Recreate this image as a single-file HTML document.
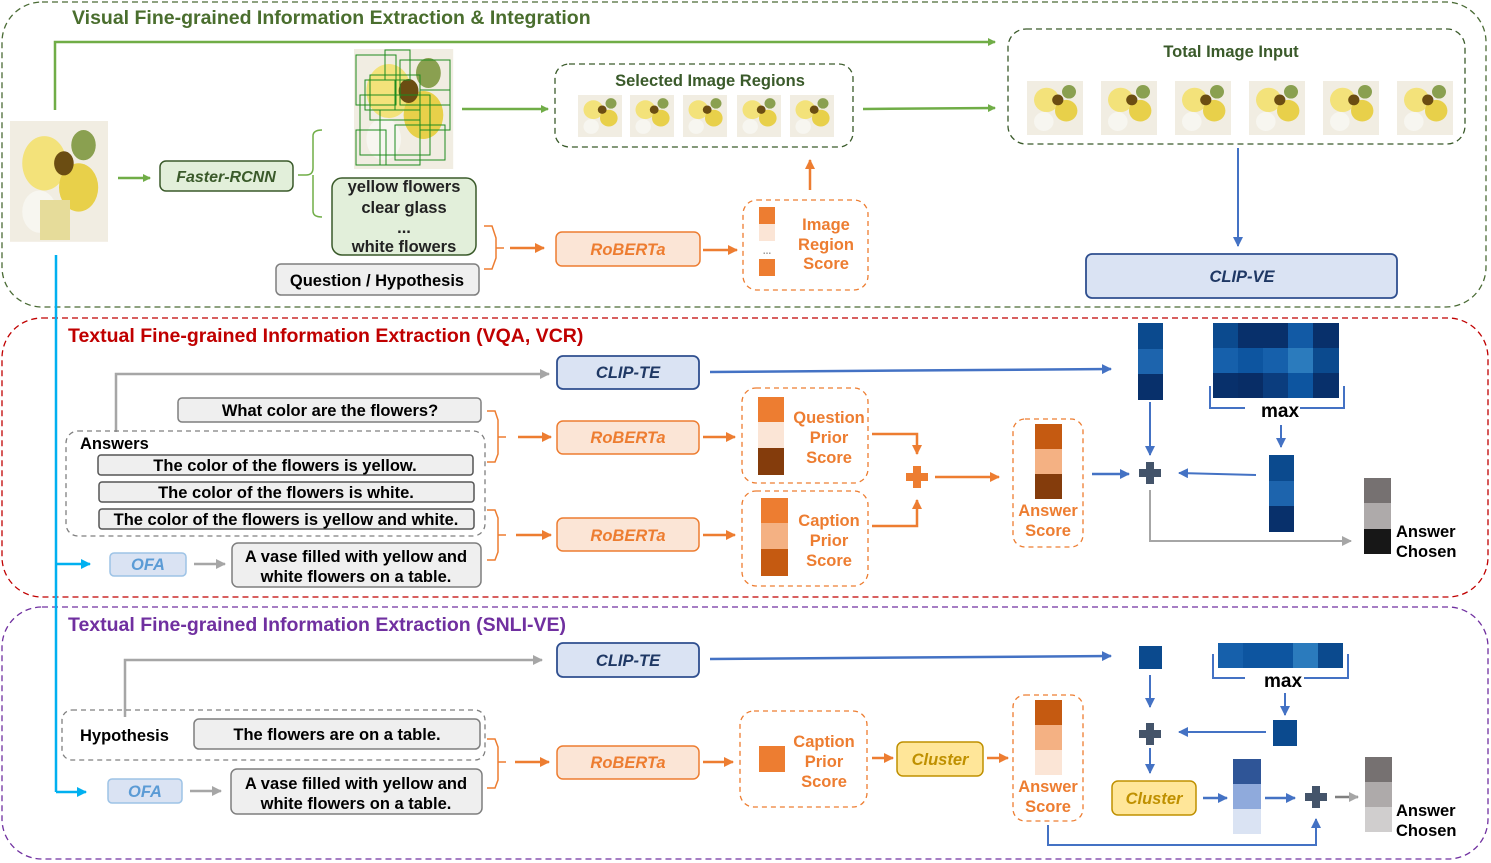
<!DOCTYPE html>
<html><head><meta charset="utf-8"><style>
html,body{margin:0;padding:0;background:#fff}
svg{display:block}
text{font-family:"Liberation Sans",Arial,sans-serif;font-weight:bold}
.it{font-style:italic}
</style></head><body>
<svg width="1491" height="863" viewBox="0 0 1491 863" xmlns="http://www.w3.org/2000/svg">
<defs>
<marker id="ag" markerWidth="8" markerHeight="8" refX="7" refY="4" orient="auto" markerUnits="userSpaceOnUse"><path d="M0,0 L8,4 L0,8 Z" fill="#70ad47"/></marker>
<marker id="ao" markerWidth="10" markerHeight="10" refX="9" refY="5" orient="auto" markerUnits="userSpaceOnUse"><path d="M0,0 L10,5 L0,10 Z" fill="#ed7d31"/></marker>
<marker id="ab" markerWidth="10" markerHeight="10" refX="9" refY="5" orient="auto" markerUnits="userSpaceOnUse"><path d="M0,0 L10,5 L0,10 Z" fill="#4472c4"/></marker>
<marker id="ay" markerWidth="10" markerHeight="10" refX="9" refY="5" orient="auto" markerUnits="userSpaceOnUse"><path d="M0,0 L10,5 L0,10 Z" fill="#a6a6a6"/></marker>
<marker id="ac" markerWidth="10" markerHeight="10" refX="9" refY="5" orient="auto" markerUnits="userSpaceOnUse"><path d="M0,0 L10,5 L0,10 Z" fill="#00b0f0"/></marker>
<g id="photo">
<rect width="40" height="40" fill="#f1ede2"/>
<circle cx="14" cy="14" r="9" fill="#f3e27a"/><circle cx="28" cy="22" r="8" fill="#e8d04a"/>
<circle cx="12" cy="30" r="7" fill="#f7f6f0"/><circle cx="22" cy="14" r="4" fill="#6b4d12"/>
<circle cx="30" cy="8" r="5" fill="#8aa050"/>
</g>
</defs>

<!-- Panels -->
<rect x="2" y="2" width="1484" height="305" rx="40" fill="none" stroke="#4a6b35" stroke-width="1.3" stroke-dasharray="6,4"/>
<text x="72" y="24" font-size="19.5" fill="#4a6e2e">Visual Fine-grained Information Extraction &amp; Integration</text>
<rect x="2" y="318" width="1486" height="279" rx="40" fill="none" stroke="#c00000" stroke-width="1.3" stroke-dasharray="6,4"/>
<text x="68" y="342" font-size="19.5" fill="#c00000">Textual Fine-grained Information Extraction (VQA, VCR)</text>
<rect x="2" y="607" width="1486" height="252" rx="40" fill="none" stroke="#7030a0" stroke-width="1.3" stroke-dasharray="6,4"/>
<text x="68" y="631" font-size="19.5" fill="#7030a0">Textual Fine-grained Information Extraction (SNLI-VE)</text>

<!-- TOP -->
<polyline points="55,110 55,42 995,42" fill="none" stroke="#70ad47" stroke-width="2.5" marker-end="url(#ag)"/>
<g transform="translate(10,121) scale(2.45,3.02)"><use href="#photo"/></g>
<rect x="40" y="200" width="30" height="40" fill="#e6dc9a"/>
<line x1="118" y1="178" x2="150" y2="178" stroke="#70ad47" stroke-width="2.5" marker-end="url(#ag)"/>
<rect x="160" y="161" width="133" height="30" rx="6" fill="#e2efda" stroke="#3a5a2a" stroke-width="1.5"/>
<text x="226" y="182" font-size="16" fill="#3a5a2a" text-anchor="middle" class="it">Faster-RCNN</text>
<path d="M298,175 L306,175 M306,175 Q313,175 313,168 L313,136 Q313,130 322,130 M313,175 L313,211 Q313,217 322,217" fill="none" stroke="#70ad47" stroke-width="1.5"/>
<g transform="translate(354,49) scale(2.48,3)"><use href="#photo"/></g>
<g fill="none" stroke="#1e8c1e" stroke-width="1">
<rect x="356" y="55" width="40" height="50"/><rect x="370" y="75" width="50" height="45"/><rect x="360" y="95" width="70" height="60"/><rect x="400" y="60" width="50" height="45"/><rect x="380" y="110" width="40" height="55"/><rect x="356" y="130" width="30" height="35"/><rect x="420" y="90" width="30" height="40"/><rect x="385" y="50" width="25" height="30"/><rect x="365" y="80" width="30" height="30"/><rect x="395" y="125" width="50" height="35"/>
</g>
<line x1="462" y1="109" x2="548" y2="109" stroke="#70ad47" stroke-width="2.5" marker-end="url(#ag)"/>
<rect x="555" y="64" width="298" height="83" rx="14" fill="none" stroke="#3a5a2a" stroke-width="1.3" stroke-dasharray="6,4"/>
<text x="710" y="86" font-size="16.5" fill="#3a5a2a" text-anchor="middle">Selected Image Regions</text>
<g transform="translate(578,95) scale(1.1,1.05)"><use href="#photo"/></g>
<g transform="translate(630,95) scale(1.1,1.05)"><use href="#photo"/></g>
<g transform="translate(683,95) scale(1.1,1.05)"><use href="#photo"/></g>
<g transform="translate(737,95) scale(1.1,1.05)"><use href="#photo"/></g>
<g transform="translate(790,95) scale(1.1,1.05)"><use href="#photo"/></g>
<line x1="863" y1="109" x2="995" y2="108" stroke="#70ad47" stroke-width="2.5" marker-end="url(#ag)"/>
<rect x="1008" y="29" width="457" height="115" rx="18" fill="none" stroke="#3a5a2a" stroke-width="1.3" stroke-dasharray="6,4"/>
<text x="1231" y="57" font-size="16.5" fill="#3a5a2a" text-anchor="middle">Total Image Input</text>
<g transform="translate(1027,81) scale(1.4,1.35)"><use href="#photo"/></g>
<g transform="translate(1101,81) scale(1.4,1.35)"><use href="#photo"/></g>
<g transform="translate(1175,81) scale(1.4,1.35)"><use href="#photo"/></g>
<g transform="translate(1249,81) scale(1.4,1.35)"><use href="#photo"/></g>
<g transform="translate(1323,81) scale(1.4,1.35)"><use href="#photo"/></g>
<g transform="translate(1397,81) scale(1.4,1.35)"><use href="#photo"/></g>
<line x1="1238" y1="148" x2="1238" y2="246" stroke="#4472c4" stroke-width="2" marker-end="url(#ab)"/>
<rect x="1086" y="254" width="311" height="44" rx="6" fill="#dae3f3" stroke="#2f4f8f" stroke-width="1.8"/>
<text x="1242" y="282" font-size="16.5" fill="#1f3864" text-anchor="middle" class="it">CLIP-VE</text>

<rect x="332" y="178" width="144" height="77" rx="10" fill="#e2efda" stroke="#3a5a2a" stroke-width="1.5"/>
<g font-size="16.5" fill="#222" text-anchor="middle"><text x="404" y="192">yellow flowers</text><text x="404" y="213">clear glass</text><text x="404" y="233">...</text><text x="404" y="252">white flowers</text></g>
<rect x="276" y="264" width="203" height="31" rx="5" fill="#efefef" stroke="#7f7f7f" stroke-width="1.5"/>
<text x="377" y="286" font-size="16.5" fill="#000" text-anchor="middle">Question / Hypothesis</text>
<path d="M484,226 L492,226 L496,238 L496,248 M496,248 L496,258 L492,269 L484,269 M496,248 L504,248" fill="none" stroke="#ed7d31" stroke-width="1.5"/>
<line x1="510" y1="248" x2="544" y2="248" stroke="#ed7d31" stroke-width="2.5" marker-end="url(#ao)"/>
<rect x="556" y="232" width="144" height="34" rx="6" fill="#fbe5d6" stroke="#ed7d31" stroke-width="1.5"/>
<text x="628" y="255" font-size="16.5" fill="#ed7d31" text-anchor="middle" class="it">RoBERTa</text>
<line x1="703" y1="250" x2="737" y2="250" stroke="#ed7d31" stroke-width="2.5" marker-end="url(#ao)"/>
<rect x="743" y="200" width="125" height="90" rx="14" fill="none" stroke="#ed7d31" stroke-width="1.3" stroke-dasharray="5,4"/>
<rect x="759" y="207" width="16" height="17" fill="#ed7d31"/><rect x="759" y="224" width="16" height="17" fill="#fbe5d6"/>
<text x="767" y="254" font-size="10" fill="#999" text-anchor="middle">...</text>
<rect x="759" y="259" width="16" height="17" fill="#ed7d31"/>
<g font-size="16.5" fill="#ed7d31" text-anchor="middle"><text x="826" y="230">Image</text><text x="826" y="250">Region</text><text x="826" y="269">Score</text></g>
<line x1="810" y1="190" x2="810" y2="160" stroke="#ed7d31" stroke-width="2.5" marker-end="url(#ao)"/>

<!-- cyan line -->
<line x1="56" y1="255" x2="56" y2="792" stroke="#00b0f0" stroke-width="2.5"/>
<line x1="56" y1="564" x2="90" y2="564" stroke="#00b0f0" stroke-width="2.5" marker-end="url(#ac)"/>
<line x1="56" y1="792" x2="86" y2="792" stroke="#00b0f0" stroke-width="2.5" marker-end="url(#ac)"/>

<!-- MIDDLE -->
<rect x="557" y="356" width="142" height="33" rx="6" fill="#dae3f3" stroke="#2f4f8f" stroke-width="1.8"/>
<text x="628" y="378" font-size="16.5" fill="#1f3864" text-anchor="middle" class="it">CLIP-TE</text>
<polyline points="116,432 116,374 549,374" fill="none" stroke="#a6a6a6" stroke-width="2.5" marker-end="url(#ay)"/>
<line x1="710" y1="372" x2="1111" y2="369" stroke="#4472c4" stroke-width="2.5" marker-end="url(#ab)"/>
<rect x="178" y="398" width="303" height="24" rx="4" fill="#efefef" stroke="#7f7f7f" stroke-width="1.5"/>
<text x="330" y="416" font-size="16.5" fill="#000" text-anchor="middle">What color are the flowers?</text>
<rect x="66" y="431" width="419" height="105" rx="12" fill="none" stroke="#7f7f7f" stroke-width="1.3" stroke-dasharray="5,4"/>
<text x="80" y="449" font-size="16.5" fill="#000">Answers</text>
<rect x="98" y="455" width="375" height="20" rx="3" fill="#efefef" stroke="#555" stroke-width="1.5"/>
<text x="285" y="471" font-size="16.5" fill="#000" text-anchor="middle">The color of the flowers is yellow.</text>
<rect x="99" y="482" width="375" height="20" rx="3" fill="#efefef" stroke="#555" stroke-width="1.5"/>
<text x="286" y="498" font-size="16.5" fill="#000" text-anchor="middle">The color of the flowers is white.</text>
<rect x="99" y="509" width="375" height="20" rx="3" fill="#efefef" stroke="#555" stroke-width="1.5"/>
<text x="286" y="525" font-size="16.5" fill="#000" text-anchor="middle">The color of the flowers is yellow and white.</text>
<path d="M487,411 L495,411 L498,420 L498,437 L498,454 L495,462 L487,462 M498,437 L506,437" fill="none" stroke="#ed7d31" stroke-width="1.5"/>
<line x1="518" y1="437" x2="551" y2="437" stroke="#ed7d31" stroke-width="2.5" marker-end="url(#ao)"/>
<path d="M487,510 L495,510 L498,518 L498,535 L498,552 L495,560 L487,560 M498,535 L506,535" fill="none" stroke="#ed7d31" stroke-width="1.5"/>
<line x1="516" y1="535" x2="551" y2="535" stroke="#ed7d31" stroke-width="2.5" marker-end="url(#ao)"/>
<rect x="557" y="421" width="142" height="33" rx="6" fill="#fbe5d6" stroke="#ed7d31" stroke-width="1.5"/>
<text x="628" y="443" font-size="16.5" fill="#ed7d31" text-anchor="middle" class="it">RoBERTa</text>
<rect x="557" y="518" width="142" height="33" rx="6" fill="#fbe5d6" stroke="#ed7d31" stroke-width="1.5"/>
<text x="628" y="541" font-size="16.5" fill="#ed7d31" text-anchor="middle" class="it">RoBERTa</text>
<rect x="110" y="553" width="76" height="23" rx="4" fill="#dae3f3" stroke="#9dc3e6" stroke-width="1.5"/>
<text x="148" y="570" font-size="16.5" fill="#5b9bd5" text-anchor="middle" class="it" font-weight="normal">OFA</text>
<line x1="194" y1="564" x2="225" y2="564" stroke="#a6a6a6" stroke-width="2.5" marker-end="url(#ay)"/>
<rect x="232" y="543" width="249" height="44" rx="6" fill="#efefef" stroke="#7f7f7f" stroke-width="1.5"/>
<text x="356" y="562" font-size="16.5" fill="#000" text-anchor="middle">A vase filled with yellow and</text>
<text x="356" y="582" font-size="16.5" fill="#000" text-anchor="middle">white flowers on a table.</text>
<line x1="703" y1="437" x2="735" y2="437" stroke="#ed7d31" stroke-width="2.5" marker-end="url(#ao)"/>
<line x1="703" y1="535" x2="735" y2="535" stroke="#ed7d31" stroke-width="2.5" marker-end="url(#ao)"/>
<rect x="742" y="388" width="126" height="95" rx="14" fill="none" stroke="#ed7d31" stroke-width="1.3" stroke-dasharray="5,4"/>
<rect x="758" y="397" width="26" height="25" fill="#ed7d31"/><rect x="758" y="422" width="26" height="26" fill="#fbe5d6"/><rect x="758" y="448" width="26" height="27" fill="#843c0c"/>
<g font-size="16.5" fill="#ed7d31" text-anchor="middle"><text x="829" y="423">Question</text><text x="829" y="443">Prior</text><text x="829" y="463">Score</text></g>
<rect x="742" y="491" width="126" height="95" rx="14" fill="none" stroke="#ed7d31" stroke-width="1.3" stroke-dasharray="5,4"/>
<rect x="761" y="498" width="27" height="25" fill="#ed7d31"/><rect x="761" y="523" width="27" height="26" fill="#f4b183"/><rect x="761" y="549" width="27" height="27" fill="#c55a11"/>
<g font-size="16.5" fill="#ed7d31" text-anchor="middle"><text x="829" y="526">Caption</text><text x="829" y="546">Prior</text><text x="829" y="566">Score</text></g>
<polyline points="872,434 917,434 917,454" fill="none" stroke="#ed7d31" stroke-width="2.5" marker-end="url(#ao)"/>
<polyline points="872,526 917,526 917,500" fill="none" stroke="#ed7d31" stroke-width="2.5" marker-end="url(#ao)"/>
<path d="M913,466 h8 v7 h7 v8 h-7 v7 h-8 v-7 h-7 v-8 h7 z" fill="#ed7d31"/>
<line x1="935" y1="477" x2="999" y2="477" stroke="#ed7d31" stroke-width="2.5" marker-end="url(#ao)"/>
<rect x="1013" y="419" width="70" height="128" rx="12" fill="none" stroke="#ed7d31" stroke-width="1.3" stroke-dasharray="5,4"/>
<rect x="1035" y="424" width="27" height="25" fill="#c55a11"/><rect x="1035" y="449" width="27" height="25" fill="#f4b183"/><rect x="1035" y="474" width="27" height="25" fill="#843c0c"/>
<g font-size="16.5" fill="#ed7d31" text-anchor="middle"><text x="1048" y="516">Answer</text><text x="1048" y="536">Score</text></g>
<line x1="1092" y1="474" x2="1129" y2="474" stroke="#4472c4" stroke-width="2.5" marker-end="url(#ab)"/>
<path d="M1146,462 h8 v7 h7 v8 h-7 v7 h-8 v-7 h-7 v-8 h7 z" fill="#44546a"/>
<line x1="1150" y1="402" x2="1150" y2="455" stroke="#4472c4" stroke-width="2" marker-end="url(#ab)"/>
<rect x="1138" y="323" width="25" height="26" fill="#0b4a8e"/><rect x="1138" y="349" width="25" height="25" fill="#1d64ad"/><rect x="1138" y="374" width="25" height="26" fill="#08306b"/>
<g>
<rect x="1213" y="323" width="126" height="75" fill="#0b3d7e"/>
<rect x="1213" y="323" width="25" height="25" fill="#0b4a8e"/><rect x="1238" y="323" width="25" height="25" fill="#08306b"/><rect x="1263" y="323" width="25" height="25" fill="#08306b"/><rect x="1288" y="323" width="25" height="25" fill="#125aa5"/><rect x="1313" y="323" width="26" height="25" fill="#08306b"/>
<rect x="1213" y="348" width="25" height="25" fill="#1660ab"/><rect x="1238" y="348" width="25" height="25" fill="#0d55a0"/><rect x="1263" y="348" width="25" height="25" fill="#1660ab"/><rect x="1288" y="348" width="25" height="25" fill="#2b7bbd"/><rect x="1313" y="348" width="26" height="25" fill="#0b4a8e"/>
<rect x="1213" y="373" width="25" height="25" fill="#08306b"/><rect x="1238" y="373" width="25" height="25" fill="#082d66"/><rect x="1263" y="373" width="25" height="25" fill="#0b3d7e"/><rect x="1288" y="373" width="25" height="25" fill="#0d55a0"/><rect x="1313" y="373" width="26" height="25" fill="#08306b"/>
</g>
<polyline points="1210,386 1210,408 1245,408" fill="none" stroke="#4472c4" stroke-width="2"/>
<polyline points="1300,408 1344,408 1344,386" fill="none" stroke="#4472c4" stroke-width="2"/>
<text x="1280" y="417" font-size="19" fill="#000" text-anchor="middle">max</text>
<line x1="1281" y1="425" x2="1281" y2="447" stroke="#4472c4" stroke-width="2" marker-end="url(#ab)"/>
<rect x="1269" y="455" width="25" height="26" fill="#0b4a8e"/><rect x="1269" y="481" width="25" height="25" fill="#1d64ad"/><rect x="1269" y="506" width="25" height="26" fill="#08306b"/>
<line x1="1256" y1="475" x2="1179" y2="473" stroke="#4472c4" stroke-width="2" marker-end="url(#ab)"/>
<polyline points="1150,490 1150,541 1351,541" fill="none" stroke="#a6a6a6" stroke-width="2" marker-end="url(#ay)"/>
<rect x="1364" y="478" width="27" height="25" fill="#767171"/><rect x="1364" y="503" width="27" height="26" fill="#aeaaaa"/><rect x="1364" y="529" width="27" height="25" fill="#171717"/>
<text x="1396" y="537" font-size="16.5" fill="#000">Answer</text><text x="1396" y="557" font-size="16.5" fill="#000">Chosen</text>

<!-- BOTTOM -->
<rect x="557" y="643" width="142" height="34" rx="6" fill="#dae3f3" stroke="#2f4f8f" stroke-width="1.8"/>
<text x="628" y="666" font-size="16.5" fill="#1f3864" text-anchor="middle" class="it">CLIP-TE</text>
<polyline points="125,717 125,660 542,660" fill="none" stroke="#a6a6a6" stroke-width="2.5" marker-end="url(#ay)"/>
<line x1="710" y1="659" x2="1111" y2="656" stroke="#4472c4" stroke-width="2.5" marker-end="url(#ab)"/>
<rect x="62" y="710" width="423" height="50" rx="10" fill="none" stroke="#7f7f7f" stroke-width="1.3" stroke-dasharray="5,4"/>
<text x="80" y="741" font-size="16.5" fill="#000">Hypothesis</text>
<rect x="194" y="719" width="286" height="30" rx="5" fill="#efefef" stroke="#7f7f7f" stroke-width="1.5"/>
<text x="337" y="740" font-size="16.5" fill="#000" text-anchor="middle">The flowers are on a table.</text>
<rect x="108" y="779" width="74" height="24" rx="4" fill="#dae3f3" stroke="#9dc3e6" stroke-width="1.5"/>
<text x="145" y="797" font-size="16.5" fill="#5b9bd5" text-anchor="middle" class="it" font-weight="normal">OFA</text>
<line x1="190" y1="791" x2="221" y2="791" stroke="#a6a6a6" stroke-width="2.5" marker-end="url(#ay)"/>
<rect x="231" y="769" width="251" height="45" rx="6" fill="#efefef" stroke="#7f7f7f" stroke-width="1.5"/>
<text x="356" y="789" font-size="16.5" fill="#000" text-anchor="middle">A vase filled with yellow and</text>
<text x="356" y="809" font-size="16.5" fill="#000" text-anchor="middle">white flowers on a table.</text>
<path d="M487,739 L495,739 L498,747 L498,762 L498,780 L495,788 L487,788 M498,762 L506,762" fill="none" stroke="#ed7d31" stroke-width="1.5"/>
<line x1="515" y1="762" x2="549" y2="762" stroke="#ed7d31" stroke-width="2.5" marker-end="url(#ao)"/>
<rect x="557" y="746" width="142" height="33" rx="6" fill="#fbe5d6" stroke="#ed7d31" stroke-width="1.5"/>
<text x="628" y="768" font-size="16.5" fill="#ed7d31" text-anchor="middle" class="it">RoBERTa</text>
<line x1="703" y1="762" x2="733" y2="762" stroke="#ed7d31" stroke-width="2.5" marker-end="url(#ao)"/>
<rect x="740" y="711" width="127" height="96" rx="14" fill="none" stroke="#ed7d31" stroke-width="1.3" stroke-dasharray="5,4"/>
<rect x="759" y="746" width="26" height="26" fill="#ed7d31"/>
<g font-size="16.5" fill="#ed7d31" text-anchor="middle"><text x="824" y="747">Caption</text><text x="824" y="767">Prior</text><text x="824" y="787">Score</text></g>
<line x1="872" y1="758" x2="893" y2="758" stroke="#ed7d31" stroke-width="2.5" marker-end="url(#ao)"/>
<rect x="897" y="742" width="86" height="34" rx="6" fill="#ffe699" stroke="#bf9000" stroke-width="1.5"/>
<text x="940" y="765" font-size="16.5" fill="#bf9000" text-anchor="middle" class="it">Cluster</text>
<line x1="987" y1="758" x2="1008" y2="758" stroke="#ed7d31" stroke-width="2.5" marker-end="url(#ao)"/>
<rect x="1013" y="695" width="70" height="126" rx="12" fill="none" stroke="#ed7d31" stroke-width="1.3" stroke-dasharray="5,4"/>
<rect x="1035" y="700" width="27" height="25" fill="#c55a11"/><rect x="1035" y="725" width="27" height="25" fill="#f4b183"/><rect x="1035" y="750" width="27" height="25" fill="#fbe5d6"/>
<g font-size="16.5" fill="#ed7d31" text-anchor="middle"><text x="1048" y="792">Answer</text><text x="1048" y="812">Score</text></g>
<polyline points="1048,825 1048,845 1316,845 1316,819" fill="none" stroke="#4472c4" stroke-width="2" marker-end="url(#ab)"/>
<rect x="1139" y="646" width="23" height="23" fill="#0b4a8e"/>
<line x1="1150" y1="675" x2="1150" y2="707" stroke="#4472c4" stroke-width="2" marker-end="url(#ab)"/>
<path d="M1146,723 h8 v7 h7 v8 h-7 v7 h-8 v-7 h-7 v-8 h7 z" fill="#44546a"/>
<line x1="1150" y1="748" x2="1150" y2="773" stroke="#4472c4" stroke-width="2" marker-end="url(#ab)"/>
<rect x="1112" y="781" width="84" height="34" rx="6" fill="#ffe699" stroke="#bf9000" stroke-width="1.5"/>
<text x="1154" y="804" font-size="16.5" fill="#bf9000" text-anchor="middle" class="it">Cluster</text>
<line x1="1203" y1="798" x2="1227" y2="798" stroke="#4472c4" stroke-width="2.5" marker-end="url(#ab)"/>
<rect x="1233" y="759" width="28" height="25" fill="#2f5597"/><rect x="1233" y="784" width="28" height="25" fill="#8faadc"/><rect x="1233" y="809" width="28" height="25" fill="#dae3f3"/>
<line x1="1265" y1="798" x2="1295" y2="798" stroke="#4472c4" stroke-width="2.5" marker-end="url(#ab)"/>
<path d="M1312,786 h8 v7 h7 v8 h-7 v7 h-8 v-7 h-7 v-8 h7 z" fill="#44546a"/>
<line x1="1335" y1="797" x2="1358" y2="797" stroke="#7f7f7f" stroke-width="2.5" marker-end="url(#ay)"/>
<rect x="1365" y="757" width="27" height="25" fill="#767171"/><rect x="1365" y="782" width="27" height="25" fill="#aeaaaa"/><rect x="1365" y="807" width="27" height="25" fill="#d0cece"/>
<text x="1396" y="816" font-size="16.5" fill="#000">Answer</text><text x="1396" y="836" font-size="16.5" fill="#000">Chosen</text>
<rect x="1218" y="643" width="25" height="25" fill="#1660ab"/><rect x="1243" y="643" width="25" height="25" fill="#0d55a0"/><rect x="1268" y="643" width="25" height="25" fill="#0d55a0"/><rect x="1293" y="643" width="25" height="25" fill="#2b7bbd"/><rect x="1318" y="643" width="25" height="25" fill="#0b4a8e"/>
<polyline points="1213,654 1213,678 1245,678" fill="none" stroke="#4472c4" stroke-width="2"/>
<polyline points="1304,678 1348,678 1348,654" fill="none" stroke="#4472c4" stroke-width="2"/>
<text x="1283" y="687" font-size="19" fill="#000" text-anchor="middle">max</text>
<line x1="1285" y1="693" x2="1285" y2="715" stroke="#4472c4" stroke-width="2" marker-end="url(#ab)"/>
<rect x="1273" y="720" width="24" height="26" fill="#0b4a8e"/>
<line x1="1266" y1="732" x2="1179" y2="732" stroke="#4472c4" stroke-width="2" marker-end="url(#ab)"/>
</svg>
</body></html>
